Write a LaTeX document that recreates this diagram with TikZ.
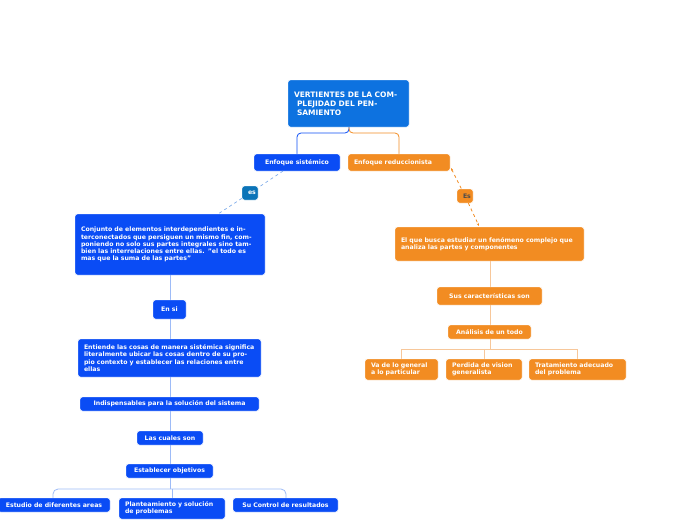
\documentclass[tikz,border=0pt]{standalone}
\usepackage{fontspec}
\setmainfont{DejaVu Sans}
\usetikzlibrary{arrows.meta}
\definecolor{bl}{HTML}{0A4CF5}
\definecolor{rootc}{HTML}{0D72E0}
\definecolor{esc}{HTML}{0B74B8}
\definecolor{orc}{HTML}{F28C22}
\definecolor{lbl}{HTML}{9DBBF7}
\definecolor{lor}{HTML}{F7C79A}
\tikzset{
 box/.style={rounded corners=2.5pt,draw=white,line width=0.4pt,text=white,font=\bfseries\fontsize{6.2}{7.2}\selectfont,inner xsep=6pt,inner ysep=0pt,align=left,anchor=center},
 bb/.style={box,fill=bl},
 ob/.style={box,fill=orc},
}
\newcommand{\bx}[7]{% style name x1 y1 x2 y2 text
 \node[#1,minimum width={#5-#3},minimum height={#6-#4},text width={#5-#3-12}] (#2) at ({(#3+#5)/2},{(#4+#6)/2}) {#7};}
\newcommand{\cbx}[7]{%
 \node[#1,align=center,minimum width={#5-#3},minimum height={#6-#4},text width={#5-#3-12}] (#2) at ({(#3+#5)/2},{(#4+#6)/2}) {#7};}
\begin{document}
\begin{tikzpicture}[x=1pt,y=-1pt]
\useasboundingbox (0,0) rectangle (697,520);
% connectors
\draw[bl,line width=0.8pt,rounded corners=4pt] (349,127) -- (349,133) -- (297,133) -- (297,154);
\draw[orc,line width=0.8pt,rounded corners=4pt] (349,127) -- (349,133) -- (399,133) -- (399,154);
\draw[lbl,line width=1pt] (170,275) -- (170,464);
\draw[lbl,line width=0.8pt,rounded corners=5pt] (53,498) -- (53,489) -- (286,489) -- (286,498);
\draw[lbl,line width=0.8pt] (170,478) -- (170,489) (172,489) -- (172,498);
\draw[lor,line width=1pt] (490,261) -- (490,325);
\draw[lor,line width=0.8pt] (401,359) -- (401,349) -- (577,349) -- (577,359) (490,339)--(490,349) (484,349)--(484,359);
% nodes
\bx{box,fill=rootc,font=\bfseries\fontsize{7.5}{9}\selectfont,inner xsep=9pt}{root}{291}{80}{406}{127}{\hspace*{-3pt}VERTIENTES DE LA COMPLEJIDAD DEL PENSAMIENTO}
\cbx{bb}{sis}{254}{154}{340}{171}{Enfoque sistémico}
\bx{ob}{red}{348}{154}{450}{171}{Enfoque reduccionista}
\cbx{box,fill=esc,inner xsep=2pt}{es}{242}{186}{258}{200}{es}
\bx{bb}{conj}{75}{214}{265}{275}{Conjunto de elementos interdependientes e interconectados que persiguen un mismo fin, componiendo no solo sus partes integrales sino tambien las interrelaciones entre ellas. "el todo es mas que la suma de las partes"}
\cbx{bb,inner xsep=2pt}{ensi}{153}{300}{186}{319}{En si}
\bx{bb}{ent}{78}{339}{261}{377}{Entiende las cosas de manera sistémica significa literalmente ubicar las cosas dentro de su propio contexto y establecer las relaciones entre ellas}
\cbx{bb,inner xsep=2pt}{ind}{80}{397}{259}{411}{Indispensables para la solución del sistema}
\cbx{bb}{cua}{137}{431}{203}{445}{Las cuales son}
\cbx{bb}{est}{126}{464}{213}{478}{Establecer objetivos}
\cbx{bb,inner xsep=2pt}{estu}{-2}{498}{110}{512}{Estudio de diferentes areas}
\bx{bb}{plan}{119}{498}{225}{519}{Planteamiento y solución de problemas}
\cbx{bb,inner xsep=2pt}{ctrl}{233}{498}{338}{512}{Su Control de resultados}
\cbx{ob,text=black!70,inner xsep=2pt}{Es}{457}{189}{473}{203}{Es}
\bx{ob}{busca}{395}{227}{584}{261}{El que busca estudiar un fenómeno complejo que analiza las partes y componentes}
\cbx{ob}{car}{437}{287}{542}{305}{Sus características son}
\cbx{ob}{ana}{448}{325}{531}{339}{Análisis de un todo}
\bx{ob,inner xsep=3pt}{va}{365}{359}{438}{380}{Va de lo general a lo particular}
\bx{ob,inner xsep=3pt}{per}{446}{359}{522}{380}{Perdida de vision generalista}
\bx{ob,inner xsep=3pt}{tra}{529}{359}{626}{380}{Tratamiento adecuado \\ del problema}
% dashed
\draw[lbl!80!esc,dashed,line width=0.7pt] (283,171) -- (es) -- (218,214);
\draw[orc,dashed,line width=0.8pt,{Stealth[length=3pt]}-] (451,168) -- (Es);
\draw[orc,dashed,line width=0.8pt,-{Stealth[length=3pt]}] (Es) -- (479,226);
\end{tikzpicture}
\end{document}
